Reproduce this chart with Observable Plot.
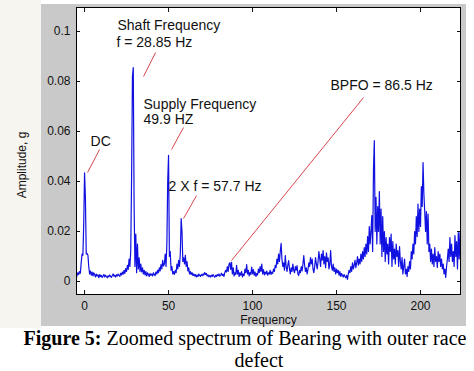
<!DOCTYPE html>
<html><head><meta charset="utf-8">
<script src="https://cdn.jsdelivr.net/npm/d3@7"></script>
<script src="https://cdn.jsdelivr.net/npm/@observablehq/plot@0.6"></script>
<style>
html,body{margin:0;padding:0;background:#fff;}
#wrap{position:relative;width:474px;height:371px;overflow:hidden;font-family:"Liberation Sans",Arial,sans-serif;}
#strip{position:absolute;left:0;top:0;width:41px;height:328px;background:#f7f5ef;}
#fig{position:absolute;left:41px;top:4px;width:425px;height:322px;background:#c9c9c9;}
#chart{position:absolute;left:0;top:0;}
.cap{position:absolute;font-family:"Liberation Serif","Times New Roman",serif;font-size:20px;color:#000;white-space:nowrap;line-height:20px;text-align:center;}
#cap1{left:0;width:490px;top:328px;}
#cap2{left:0;width:518px;top:350px;}
</style></head><body>
<div id="wrap"><div id="strip"></div><div id="fig"></div><div id="chart"></div>
<div class="cap" id="cap1"><b>Figure 5:</b> Zoomed spectrum of Bearing with outer race</div>
<div class="cap" id="cap2">defect</div></div>
<script>
// Frequency grid: first bin and bin width (Hz)
const freqStart = -5;
const freqStep = 0.5;
// Amplitude (g), one value per 0.5 Hz bin, 10 bins (5 Hz) per line starting at -5 Hz
const amplitude = [
 .0012,.0025,.0035,.0028,.0040,.0033,.0075,.0110,.0105,.0230,
 .0435,.0335,.0110,.0112,.0105,.0060,.0030,.0042,.0025,.0038,
 .0022,.0035,.0028,.0018,.0030,.0022,.0026,.0015,.0028,.0020,
 .0024,.0016,.0022,.0028,.0018,.0025,.0020,.0015,.0023,.0019,
 .0026,.0020,.0017,.0024,.0030,.0021,.0025,.0018,.0027,.0022,
 .0030,.0024,.0021,.0033,.0026,.0038,.0029,.0045,.0032,.0052,
 .0040,.0065,.0048,.0090,.0060,.0125,.0420,.0820,.0856,.0300,
 .0060,.0190,.0035,.0150,.0050,.0095,.0040,.0070,.0038,.0055,
 .0030,.0045,.0026,.0040,.0022,.0035,.0028,.0020,.0032,.0025,
 .0030,.0022,.0035,.0028,.0024,.0038,.0030,.0045,.0035,.0055,
 .0042,.0068,.0050,.0085,.0062,.0070,.0110,.0060,.0150,.0400,
 .0505,.0100,.0120,.0045,.0060,.0030,.0040,.0028,.0045,.0035,
 .0070,.0050,.0085,.0060,.0110,.0252,.0200,.0080,.0095,.0070,
 .0105,.0060,.0080,.0042,.0055,.0030,.0040,.0028,.0035,.0024,
 .0030,.0022,.0028,.0018,.0026,.0020,.0030,.0024,.0021,.0028,
 .0023,.0030,.0026,.0036,.0028,.0032,.0022,.0026,.0019,.0024,
 .0018,.0025,.0020,.0028,.0022,.0017,.0025,.0020,.0028,.0023,
 .0030,.0021,.0026,.0033,.0024,.0029,.0020,.0036,.0045,.0038,
 .0060,.0040,.0070,.0075,.0048,.0077,.0030,.0055,.0022,.0035,
 .0028,.0065,.0030,.0045,.0020,.0035,.0025,.0040,.0018,.0030,
 .0024,.0050,.0035,.0068,.0030,.0045,.0022,.0036,.0028,.0058,
 .0030,.0048,.0025,.0038,.0020,.0032,.0026,.0050,.0035,.0060,
 .0040,.0070,.0030,.0048,.0026,.0038,.0030,.0042,.0025,.0035,
 .0030,.0045,.0028,.0038,.0032,.0050,.0040,.0065,.0055,.0090,
 .0070,.0110,.0080,.0120,.0153,.0090,.0060,.0075,.0045,.0104,
 .0060,.0040,.0065,.0084,.0050,.0030,.0055,.0040,.0070,.0045,
 .0035,.0060,.0045,.0064,.0030,.0024,.0045,.0035,.0060,.0042,
 .0070,.0104,.0065,.0040,.0055,.0030,.0048,.0075,.0060,.0096,
 .0070,.0090,.0050,.0035,.0060,.0096,.0070,.0050,.0080,.0120,
 .0090,.0060,.0110,.0085,.0124,.0070,.0100,.0055,.0115,.0080,
 .0095,.0050,.0070,.0124,.0060,.0045,.0070,.0040,.0055,.0030,
 .0050,.0035,.0045,.0025,.0040,.0020,.0032,.0025,.0018,.0028,
 .0020,.0015,.0025,.0008,.0030,.0045,.0035,.0060,.0040,.0075,
 .0050,.0065,.0085,.0055,.0075,.0100,.0065,.0090,.0070,.0110,
 .0080,.0120,.0090,.0136,.0100,.0150,.0110,.0180,.0120,.0220,
 .0150,.0200,.0264,.0120,.0450,.0564,.0200,.0337,.0150,.0300,
 .0200,.0360,.0150,.0290,.0100,.0260,.0120,.0200,.0080,.0176,
 .0110,.0150,.0070,.0176,.0120,.0190,.0060,.0160,.0090,.0130,
 .0070,.0150,.0100,.0124,.0060,.0140,.0080,.0050,.0096,.0030,
 .0060,.0090,.0030,.0050,.0020,.0060,.0040,.0080,.0050,.0120,
 .0090,.0150,.0110,.0200,.0150,.0260,.0180,.0310,.0200,.0290,
 .0220,.0380,.0300,.0476,.0350,.0280,.0200,.0280,.0150,.0270,
 .0120,.0150,.0080,.0130,.0070,.0110,.0060,.0136,.0080,.0100,
 .0056,.0120,.0080,.0110,.0060,.0090,.0050,.0070,.0030,.0050,
 .0016,.0060,.0090,.0130,.0080,.0176,.0100,.0150,.0080,.0120,
 .0060,.0184,.0100,.0160,.0050,.0196,.0090,.0196,.0060
];

const xTicks = [0, 50, 100, 150, 200];
const xTickLabels = ["0", "50", "100", "150", "200"];
const yTicks = [0, 0.02, 0.04, 0.06, 0.08, 0.1];
const yTickLabels = ["0", "0.02", "0.04", "0.06", "0.08", "0.1"];
const xLabel = "Frequency";
const yLabel = "Amplitude, g";

// Annotation texts and their anchor (data units: Hz, g)
const noteText = ["Shaft Frequency", "f = 28.85 Hz", "Supply Frequency", "49.9 HZ", "DC", "2 X f = 57.7 Hz", "BPFO = 86.5 Hz"];
const noteX = [19.6, 19.0, 35.1, 35.1, 3.6, 50.0, 146.4];
const noteY = [0.1008, 0.0940, 0.0692, 0.0632, 0.0544, 0.0364, 0.0768];
// Pointer lines (data units)
const lineX1 = [42.3, 58.9, 8.9, 66.7, 166.1];
const lineY1 = [0.0916, 0.0616, 0.0528, 0.0344, 0.0736];
const lineX2 = [35.1, 51.8, 1.8, 58.9, 87.5];
const lineY2 = [0.0820, 0.0528, 0.0436, 0.0252, 0.0084];

const spectrum = amplitude.map((a, i) => ({f: freqStart + i * freqStep, a}));
const notes = noteText.map((t, i) => ({t, x: noteX[i], y: noteY[i]}));
const pointers = lineX1.map((x1, i) => ({x1, y1: lineY1[i], x2: lineX2[i], y2: lineY2[i]}));

const font = "Liberation Sans, Arial, Helvetica, sans-serif";
const chart = Plot.plot({
  width: 474, height: 326,
  marginLeft: 76, marginRight: 14, marginTop: 7, marginBottom: 32,
  style: {background: "transparent", fontFamily: font, fontSize: "12px", color: "#111", overflow: "visible"},
  x: {domain: [-4.8, 223.8]},
  y: {domain: [-0.0052, 0.1096]},
  marks: [
    Plot.frame({fill: "white"}),
    Plot.line(spectrum, {x: "f", y: "a", stroke: "#1010e0", strokeWidth: 1.2, clip: true}),
    Plot.link(pointers, {x1: "x1", y1: "y1", x2: "x2", y2: "y2", stroke: "#d9474f", strokeWidth: 1}),
    Plot.text(notes, {x: "x", y: "y", text: "t", textAnchor: "start", lineAnchor: "bottom", fontSize: 14, fill: "#111"}),
    Plot.axisX({anchor: "bottom", ticks: xTicks, tickSize: -4, tickPadding: 11, fontSize: 12,
      tickFormat: d => xTickLabels[xTicks.indexOf(d)], label: null}),
    Plot.axisX({anchor: "top", ticks: xTicks, tickSize: -4, tickFormat: () => null, label: null}),
    Plot.axisY({anchor: "left", ticks: yTicks, tickSize: -4, tickPadding: 10, fontSize: 12,
      tickFormat: d => yTickLabels[yTicks.indexOf(d)], label: null}),
    Plot.axisY({anchor: "right", ticks: yTicks, tickSize: -4, tickFormat: () => null, label: null}),
    Plot.frame({stroke: "#000", strokeWidth: 1}),
    Plot.text([yLabel], {frameAnchor: "left", dx: -54, dy: 14, rotate: -90, textAnchor: "middle", lineAnchor: "middle", text: d => d, fontSize: 12, fill: "#111"}),
    Plot.text([xLabel], {frameAnchor: "bottom", dy: 26, textAnchor: "middle", lineAnchor: "middle", text: d => d, fontSize: 12, fill: "#111"})
  ]
});
document.getElementById("chart").appendChild(chart);
</script>
</body></html>
